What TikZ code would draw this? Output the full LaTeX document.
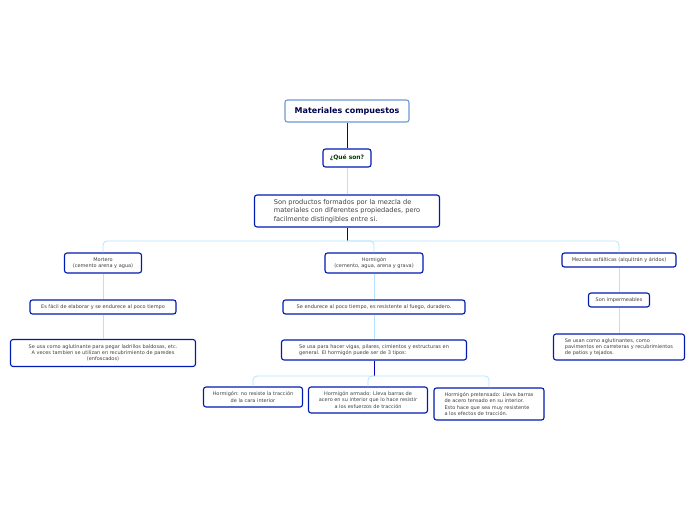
\documentclass[tikz,border=0pt]{standalone}
\usepackage{fontspec}
\setmainfont{DejaVu Sans}
\begin{document}
\begin{tikzpicture}[x=1pt,y=-1pt,
  box/.style={draw=blue!85!cyan!70!black, line width=1.1pt, rounded corners=2.5pt, fill=white, align=center, font=\fontsize{5}{6.2}\selectfont, inner sep=2pt, text=black!75},
  lbox/.style={box, align=left},
  lk/.style={draw=blue!35!cyan!30!white, line width=0.8pt, rounded corners=4pt},
  dk/.style={draw=blue!70!black, line width=0.8pt}]
\useasboundingbox (0,0) rectangle (696,520);
\node[box, draw=cyan!50!blue!60, minimum width=124, minimum height=22, font=\fontsize{8}{9}\selectfont\bfseries, text=blue!30!black] (root) at (347,111) {Materiales compuestos};
\node[box, minimum width=48, minimum height=18, font=\fontsize{6}{7}\selectfont\bfseries, text=green!25!black] (que) at (347,158) {¿Qué son?};
\node[lbox, minimum width=185, minimum height=32, font=\fontsize{6.6}{8.2}\selectfont] (def) at (347,211) {Son productos formados por la mezcla de\\materiales con diferentes propiedades, pero\\facilmente distingibles entre si.};
\node[box, minimum width=77, minimum height=20] (mor) at (103,263) {Mortero\\(cemento arena y agua)};
\node[box, minimum width=98, minimum height=20] (hor) at (374,263) {Hormigón\\(cemento, agua, arena y grava)};
\node[box, minimum width=114, minimum height=14] (mez) at (619,260) {Mezclas asfálticas (alquitrán y áridos)};
\node[box, minimum width=146, minimum height=14] (fac) at (103,307) {Es fácil de elaborar y se endurece al poco tiempo};
\node[box, minimum width=182, minimum height=14] (end) at (374,307) {Se endurece al poco tiempo, es resistente al fuego, duradero.};
\node[box, minimum width=61, minimum height=14] (imp) at (619,300) {Son impermeables};
\node[box, minimum width=185, minimum height=27] (agl) at (103,353) {Se usa como aglutinante para pegar ladrillos baldosas, etc.\\A veces tambien se utilizan en recubrimiento de paredes\\(enfoscados)};
\node[lbox, minimum width=185, minimum height=20] (usa) at (374,350) {Se usa para hacer vigas, pilares, cimientos y estructuras en\\general. El hormigón puede ser de 3 tipos:};
\node[lbox, minimum width=131, minimum height=26] (usan) at (619,347) {Se usan como aglutinantes, como\\pavimentos en carreteras y recubrimientos\\de patios y tejados.};
\node[box, minimum width=99, minimum height=20] (h1) at (253,397) {Hormigón: no resiste la tracción\\de la cara interior};
\node[box, minimum width=119, minimum height=26] (h2) at (368,400) {Hormigón armado: Lleva barras de\\acero en su interior que lo hace resistir\\a los esfuerzos de tracción};
\node[lbox, minimum width=110, minimum height=32] (h3) at (489,404) {Hormigón pretensado: Lleva barras\\de acero tensado en su interior.\\Esto hace que sea muy resistente\\a los efectos de tracción.};
\draw[dk] (root) -- (que);
\draw[lk] (que) -- (def);
\coordinate (b1) at (347,241);
\draw[dk] (def.south) -- (b1);
\draw[lk] (b1) -| (mor.north);
\draw[lk] (b1) -| (hor.north);
\draw[lk] (b1) -| (mez.north);
\draw[lk] (mor) -- (fac);
\draw[lk] (fac) -- (agl);
\draw[lk] (hor) -- (end);
\draw[lk] (end) -- (usa);
\draw[lk] (mez) -- (imp);
\draw[lk] (imp) -- (usan);
\coordinate (b2) at (374,376);
\draw[dk] (usa.south) -- (b2);
\draw[lk] (b2) -| (h1.north);
\draw[lk] (b2) -| (h2.north);
\draw[lk] (b2) -| (h3.north);
\end{tikzpicture}
\end{document}
